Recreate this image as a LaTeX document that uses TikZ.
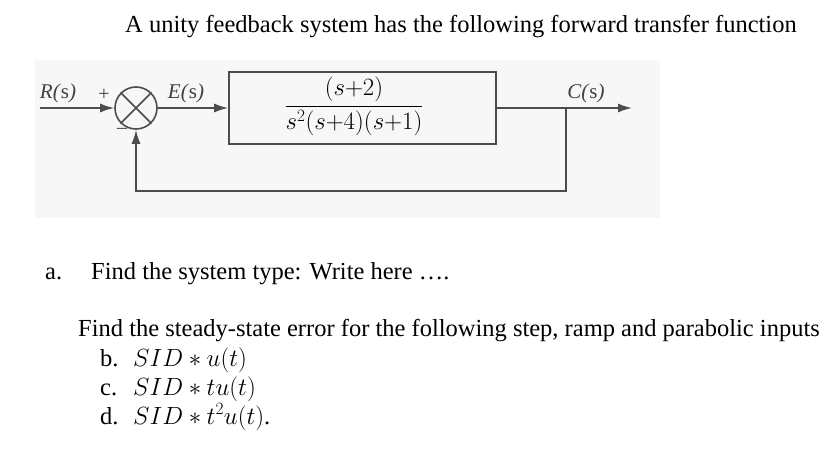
\documentclass[tikz,border=0pt]{standalone}
\usepackage{fontspec}
\setmainfont{Liberation Serif}
\usetikzlibrary{arrows.meta}
\begin{document}
\begin{tikzpicture}[x=1pt,y=-1pt,
  ln/.style={draw=black!70,line width=1.6pt},
  arr/.style={ln,-{Latex[length=14pt,width=9pt]}},
  lbl/.style={font=\fontsize{24.5}{28}\selectfont,anchor=base west,inner sep=0},
  dl/.style={font=\fontsize{21}{24}\selectfont\itshape,text=black!75,inner sep=0}]
\useasboundingbox (0,0) rectangle (821,473);
\fill[black!3] (35,60) rectangle (660,218);
\node[lbl] (title) at (125,33) {A unity feedback system has the following forward transfer function};
\node[ln,circle,minimum size=42pt,inner sep=0] (sum) at (136,108) {};
\draw[ln] (sum.45)--(sum.225) (sum.135)--(sum.315);
\node[ln,minimum width=267pt,minimum height=72pt,inner sep=0] (G) at (362.5,108) {};
\node (frac) at (354,106) {\fontsize{23}{26}\selectfont$\displaystyle\frac{(s{+}2)}{s^2(s{+}4)(s{+}1)}$};
\coordinate (rin) at (40,108);
\coordinate (br) at (566,108);
\coordinate (out) at (632,108);
\coordinate (fb) at (566,191);
\coordinate (fb2) at (136,191);
\draw[arr] (rin)--(sum.west);
\draw[arr] (sum.east)--(G.west);
\draw[ln] (G.east)--(br);
\draw[arr] (br)--(out);
\draw[arr] (br)--(fb)--(fb2)--(sum.south);
\node[dl] (R) at (58,93) {R(\textup{s})};
\node[dl,font=\fontsize{20}{22}\selectfont] (plus) at (104,95) {+};
\node[dl,font=\fontsize{20}{22}\selectfont] (minus) at (122,131) {--};
\node[dl] (E) at (186,93) {E(\textup{s})};
\node[dl] (C) at (586,93) {C(\textup{s})};
\node[lbl] (a) at (45,279) {a.};
\node[lbl] (qa) at (91,279) {Find the system type: Write here ….};
\node[lbl] (q) at (78,336) {Find the steady-state error for the following step, ramp and parabolic inputs:};
\node[lbl] (b) at (100,366) {b.};
\node[lbl] (bm) at (133,366) {$SID*u(t)$};
\node[lbl] (c) at (100,395) {c.};
\node[lbl] (cm) at (133,395) {$SID*tu(t)$};
\node[lbl] (d) at (100,424) {d.};
\node[lbl] (dm) at (133,424) {$SID*t^2u(t)$.};
\end{tikzpicture}
\end{document}
